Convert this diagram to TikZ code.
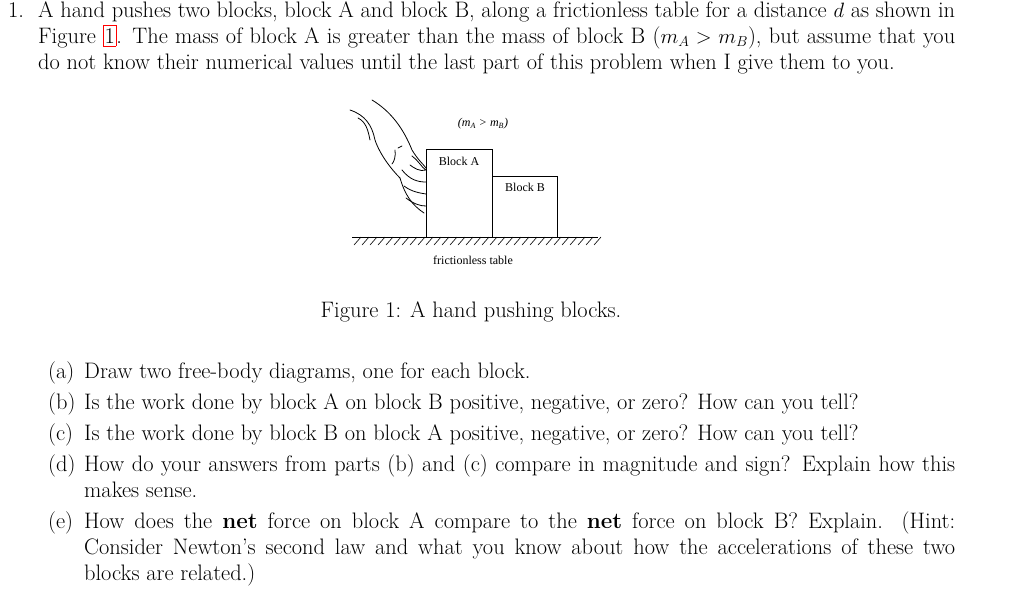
\documentclass[tikz,border=0pt]{standalone}
\usepackage{fontspec}
\newfontfamily\figfont{Liberation Serif}
\begin{document}
\begin{tikzpicture}[x=1pt,y=-1pt,
  txt/.style={anchor=base west,inner sep=0pt,font=\fontsize{22.4}{26}\selectfont},
  ftxt/.style={inner sep=0pt,font=\figfont\fontsize{12}{14}\selectfont},
  blk/.style={draw,line width=0.9pt},
  hand/.style={line width=0.8pt,line cap=round}]
\useasboundingbox (0,0) rectangle (1024,590);
\newcommand\jl[1]{\makebox[917pt][s]{#1}}
\node[txt] (n1) at (8,17) {1.};
\node[txt] (l1) at (38,17) {\jl{A hand pushes two blocks, block A and block B, along a frictionless table for a distance $d$ as shown in}};
\node[txt] (l2) at (38,43) {\jl{Figure {\color{red}\fbox{\hspace{-2pt}\color{black}1\hspace{-2pt}}}. The mass of block A is greater than the mass of block B ($m_A>m_B$), but assume that you}};
\node[txt] (l3) at (38,69) {do not know their numerical values until the last part of this problem when I give them to you.};
% figure
\draw[blk] (426,149) rectangle (492,237);
\draw[blk] (492,176) rectangle (557,237);
\node[ftxt] (ba) at (459,161) {Block A};
\node[ftxt] (bb) at (525,187) {Block B};
\node[ftxt] (mm) at (483,124) {\itshape (m\textsubscript{A} > m\textsubscript{B})};
\node[ftxt] (ft) at (473,260) {frictionless table};
\draw[line width=0.9pt] (352,237) -- (598,237);
\foreach \i in {0,...,30} \draw[line width=0.6pt] (354+8*\i,245) -- (361+8*\i,237);
% hand
\draw[hand] (372,100) .. controls (392,112) and (404,130) .. (412,150) .. controls (418,160) and (424,165) .. (426,168);
\draw[hand] (350,110) .. controls (365,115) and (372,125) .. (375,140) .. controls (380,155) and (392,170) .. (400,178);
\draw[hand] (358,118) .. controls (366,122) and (368,130) .. (370,140);
\draw[hand] (400,178) .. controls (405,195) and (412,205) .. (424,213);
\draw[hand] (412,156) .. controls (418,160) and (422,168) .. (426,170) .. controls (420,172) and (414,168) .. (410,165);
\draw[hand] (402,170) .. controls (410,180) and (418,182) .. (426,182);
\draw[hand] (404,186) .. controls (412,192) and (420,193) .. (426,194);
\draw[hand] (406,198) .. controls (414,204) and (420,206) .. (426,206);
\draw[hand] (395,150) .. controls (396,156) and (394,162) .. (392,164);
\draw[hand] (398,148) -- (402,146);
\node[txt,anchor=base] (cap) at (471,317) {Figure 1: A hand pushing blocks.};
% questions
\node[txt] (qa) at (48,378) {(a)};
\node[txt] (ta) at (84,378) {Draw two free-body diagrams, one for each block.};
\node[txt] (qb) at (48,409) {(b)};
\node[txt] (tb) at (84,409) {Is the work done by block A on block B positive, negative, or zero? How can you tell?};
\node[txt] (qc) at (48,440) {(c)};
\node[txt] (tc) at (84,440) {Is the work done by block B on block A positive, negative, or zero? How can you tell?};
\node[txt] (qd) at (48,471) {(d)};
\node[txt] (td) at (84,471) {\makebox[871pt][s]{How do your answers from parts (b) and (c) compare in magnitude and sign? Explain how this}};
\node[txt] (td2) at (84,497) {makes sense.};
\node[txt] (qe) at (48,528) {(e)};
\node[txt] (te) at (84,528) {\makebox[871pt][s]{How does the \textbf{net} force on block A compare to the \textbf{net} force on block B? Explain. (Hint:}};
\node[txt] (te2) at (84,554) {\makebox[871pt][s]{Consider Newton's second law and what you know about how the accelerations of these two}};
\node[txt] (te3) at (84,580) {blocks are related.)};
\end{tikzpicture}
\end{document}
